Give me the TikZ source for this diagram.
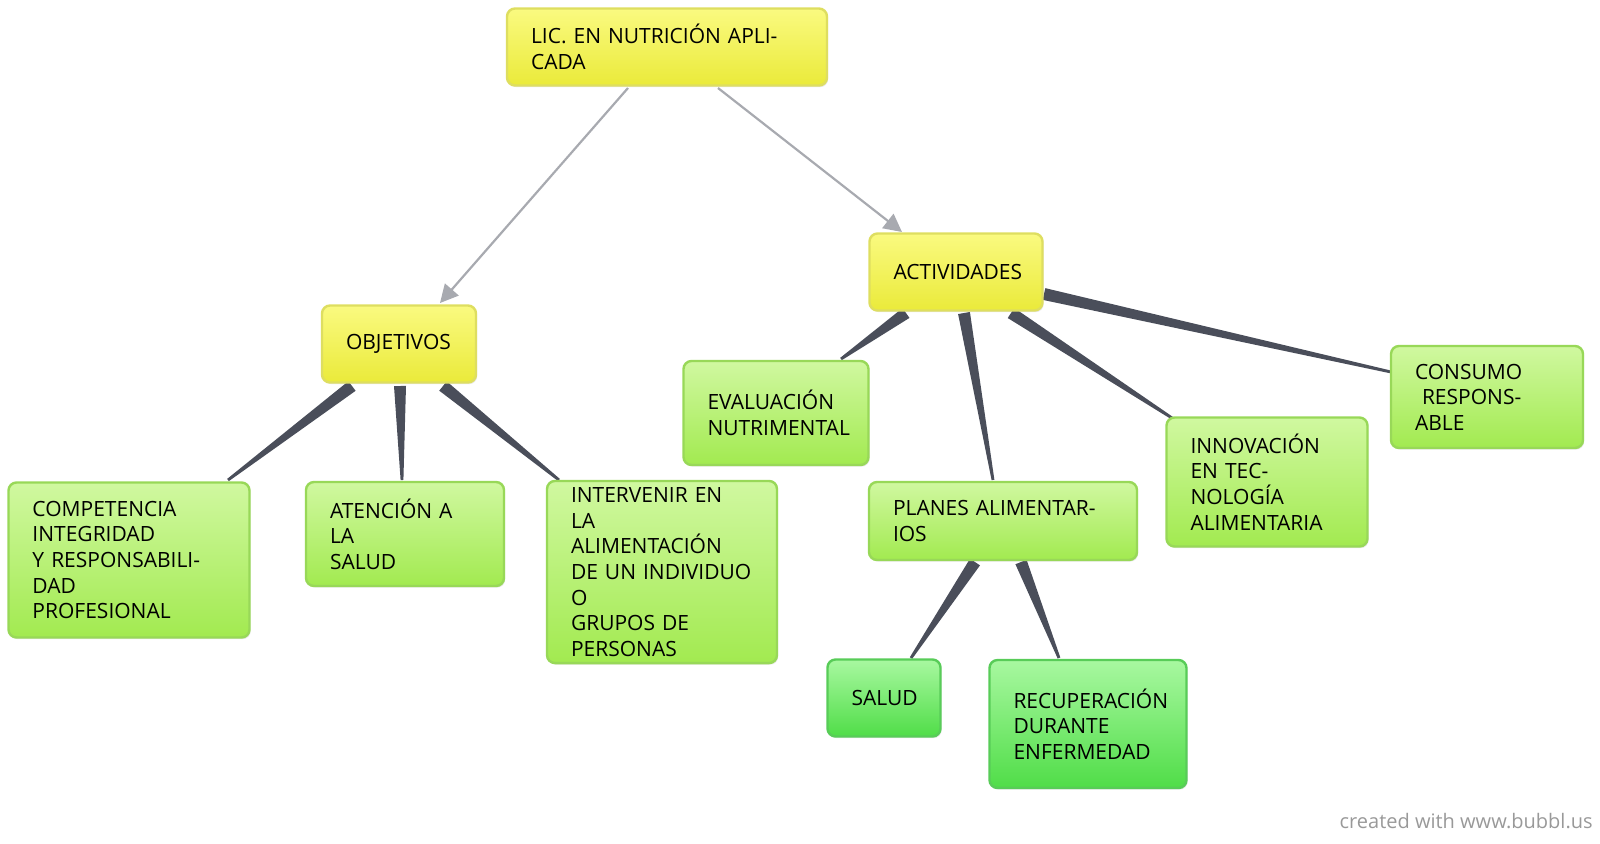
\documentclass[tikz,border=0pt]{standalone}
\usepackage{fontspec}
\setmainfont{Open Sans}
\usetikzlibrary{calc,shadows}
\definecolor{ytop}{HTML}{FAFA80}\definecolor{ybot}{HTML}{EAEA3A}\definecolor{yed}{HTML}{DEDE60}
\definecolor{gtop}{HTML}{D0F8A0}\definecolor{gbot}{HTML}{A2EA50}\definecolor{ged}{HTML}{98D858}
\definecolor{dtop}{HTML}{A8F8A0}\definecolor{dbot}{HTML}{50DD48}\definecolor{ded}{HTML}{58CC58}
\definecolor{edgec}{HTML}{4A4E5A}\definecolor{arrc}{HTML}{A8AAB0}
\tikzset{
 bx/.style={rounded corners=4pt,line width=1.2pt,inner xsep=12pt,align=left,
   font=\fontsize{10.5}{12.8}\selectfont,drop shadow={shadow xshift=0.6pt,shadow yshift=-0.8pt,opacity=0.18}},
 yel/.style={bx,draw=yed,top color=ytop,bottom color=ybot},
 grn/.style={bx,draw=ged,top color=gtop,bottom color=gbot},
 dgr/.style={bx,draw=ded,top color=dtop,bottom color=dbot},
 arr/.style={draw=arrc,line width=1.1pt,-{Triangle[length=9pt,width=9pt]}}
}
\usetikzlibrary{arrows.meta}
\newcommand\bxn[7]{\node[#6,minimum width=#4*0.5pt,minimum height=#5*0.5pt,text width=#4*0.5pt-24pt] (#1) at (#2,#3) {#7};}
\newcommand\taper[2]{\fill[edgec] ($(#1)!3pt!90:(#2)$) -- ($(#2)!0.7pt!-90:(#1)$) -- ($(#2)!0.7pt!90:(#1)$) -- ($(#1)!3pt!-90:(#2)$) -- cycle;}
\begin{document}
\begin{tikzpicture}[x=0.5pt,y=-0.5pt]
\useasboundingbox (0,0) rectangle (1600,843);
% connector endpoints
\coordinate (o1) at (352,386); \coordinate (c1) at (228,480);
\coordinate (o2) at (400,386); \coordinate (c2) at (402,480);
\coordinate (o3) at (443,386); \coordinate (c3) at (559,480);
\coordinate (a1) at (906,313); \coordinate (e1) at (841,359);
\coordinate (a2) at (964,313); \coordinate (e2) at (993,480);
\coordinate (a3) at (1011,313); \coordinate (e3) at (1172,418);
\coordinate (a4) at (1044,294); \coordinate (e4) at (1391,372);
\coordinate (p1) at (975,562); \coordinate (s1) at (911,658);
\coordinate (p2) at (1021,562); \coordinate (s2) at (1059,658);
\taper{o1}{c1}\taper{o2}{c2}\taper{o3}{c3}
\taper{a1}{e1}\taper{a2}{e2}\taper{a3}{e3}\taper{a4}{e4}
\taper{p1}{s1}\taper{p2}{s2}
\bxn{lic}{667}{47}{320}{77}{yel}{LIC. EN NUTRICIÓN APLICADA}
\bxn{obj}{399}{344}{154}{77}{yel}{OBJETIVOS}
\bxn{act}{956}{272}{173}{77}{yel}{ACTIVIDADES}
\bxn{comp}{129}{560}{241}{155}{grn}{COMPETENCIA\\INTEGRIDAD\\Y RESPONSABILIDAD\\PROFESIONAL}
\bxn{aten}{405}{534}{198}{104}{grn}{ATENCIÓN A LA\\SALUD}
\bxn{int}{662}{572}{230}{181}{grn}{INTERVENIR EN LA\\ALIMENTACIÓN\\DE UN INDIVIDUO O\\GRUPOS DE\\PERSONAS}
\bxn{eva}{776}{413}{185}{104}{grn}{EVALUACIÓN\\NUTRIMENTAL}
\bxn{pla}{1003}{521}{268}{78}{grn}{PLANES ALIMENTARIOS}
\bxn{inn}{1267}{482}{201}{129}{grn}{INNOVACIÓN\\EN TECNOLOGÍA\\ALIMENTARIA}
\bxn{con}{1487}{397}{192}{102}{grn}{CONSUMO\\\ RESPONSABLE}
\bxn{sal}{884}{698}{113}{77}{dgr}{SALUD}
\bxn{rec}{1088}{724}{197}{128}{dgr}{RECUPERACIÓN\\DURANTE\\ENFERMEDAD}
\coordinate (l1) at (628,88); \coordinate (l2) at (718,88);
\coordinate (t1) at (440,303); \coordinate (t2) at (902,232);
\draw[arr] (l1) -- (t1);
\draw[arr] (l2) -- (t2);
\node[anchor=east,text=gray!80,font=\fontsize{10}{12}\selectfont,inner sep=0pt] (wm) at (1593,821) {created with www.bubbl.us};
\end{tikzpicture}
\end{document}
